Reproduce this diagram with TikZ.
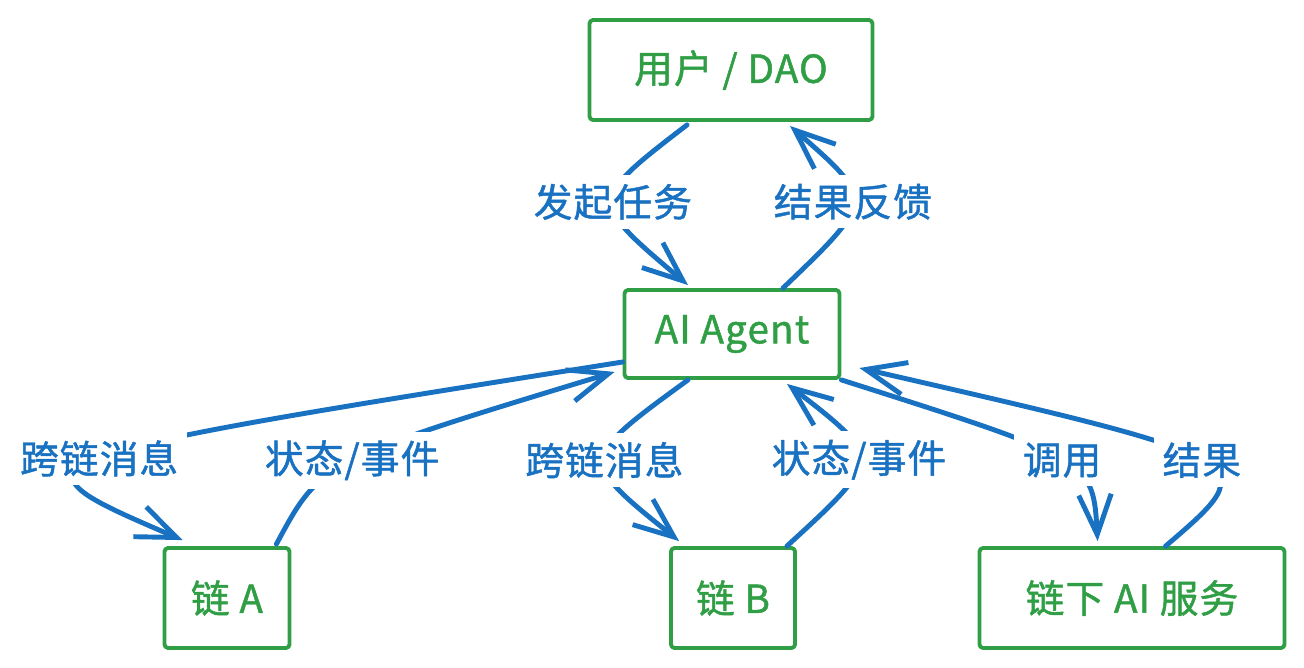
\documentclass[tikz,border=0pt]{standalone}
\usepackage{fontspec}
\setmainfont{Noto Sans CJK SC}
\newfontfamily\handfont{Noto Sans CJK SC}[FakeBold=1.2,LetterSpace=3]
\usetikzlibrary{arrows.meta,calc}
\definecolor{boxgreen}{HTML}{2F9E44}
\definecolor{flowblue}{HTML}{1971C2}
\begin{document}
\begin{tikzpicture}[x=0.02cm,y=-0.02cm,line join=round,line cap=round,
  >={Straight Barb[length=8mm,width=6.5mm]}]
  \tikzset{box/.style={draw=boxgreen,line width=2.2pt,text=boxgreen,rounded corners=2pt,
      font=\handfont\fontsize{22}{26}\selectfont,inner sep=0pt},
    flow/.style={draw=flowblue,line width=2.8pt},
    lbl/.style={fill=white,text=flowblue,font=\handfont\fontsize{22}{26}\selectfont,inner sep=5pt}}
  \useasboundingbox (0,0) rectangle (1304,668);
  % boxes
  \node[box,minimum width=5.66cm,minimum height=2cm] (user) at (731,70) {用户 / DAO};
  \node[box,minimum width=4.3cm,minimum height=1.76cm] (agent) at (732,334) {AI Agent};
  \node[box,minimum width=2.5cm,minimum height=2cm] (chainA) at (227,598) {链 A};
  \node[box,minimum width=2.48cm,minimum height=2cm] (chainB) at (733,598) {链 B};
  \node[box,minimum width=6.1cm,minimum height=2cm] (offchain) at (1132,598) {链下 AI 服务};
  % user <-> agent
  \draw[flow,->] ($(user.south)+(-44,3)$) .. controls (588,201) .. node[lbl]{发起任务} ($(agent.north)+(-44,-3)$);
  \draw[flow,->] ($(agent.north)+(51,0)$) .. controls (875,200) .. node[lbl]{结果反馈} ($(user.south)+(59,4)$);
  % agent <-> chains
  \draw[flow,->] ($(agent.west)+(0,28)$) .. controls (-2,461) .. node[lbl]{跨链消息} ($(chainA.north west)+(20,-6)$);
  \draw[flow,->] ($(chainA.north east)+(-15,-2)$) .. controls (321,461) .. node[lbl]{状态/事件} ($(agent.south west)+(-8,-8)$);
  \draw[flow,->] ($(agent.south)+(-44,0)$) .. controls (578,460) .. node[lbl]{跨链消息} ($(chainB.north west)+(10,-5)$);
  \draw[flow,->] ($(chainB.north east)+(-10,0)$) .. controls (883,458) .. node[lbl]{状态/事件} ($(agent.south)+(55,4)$);
  % agent <-> off-chain service
  \draw[flow,->] (agent.south east) .. controls (1093,460) .. node[lbl]{调用} ($(offchain.north west)+(120,-5)$);
  \draw[flow,->] ($(offchain.north west)+(188,0)$) .. controls (1265,461) .. node[lbl]{结果} ($(agent.east)+(18,34)$);
\end{tikzpicture}
\end{document}
